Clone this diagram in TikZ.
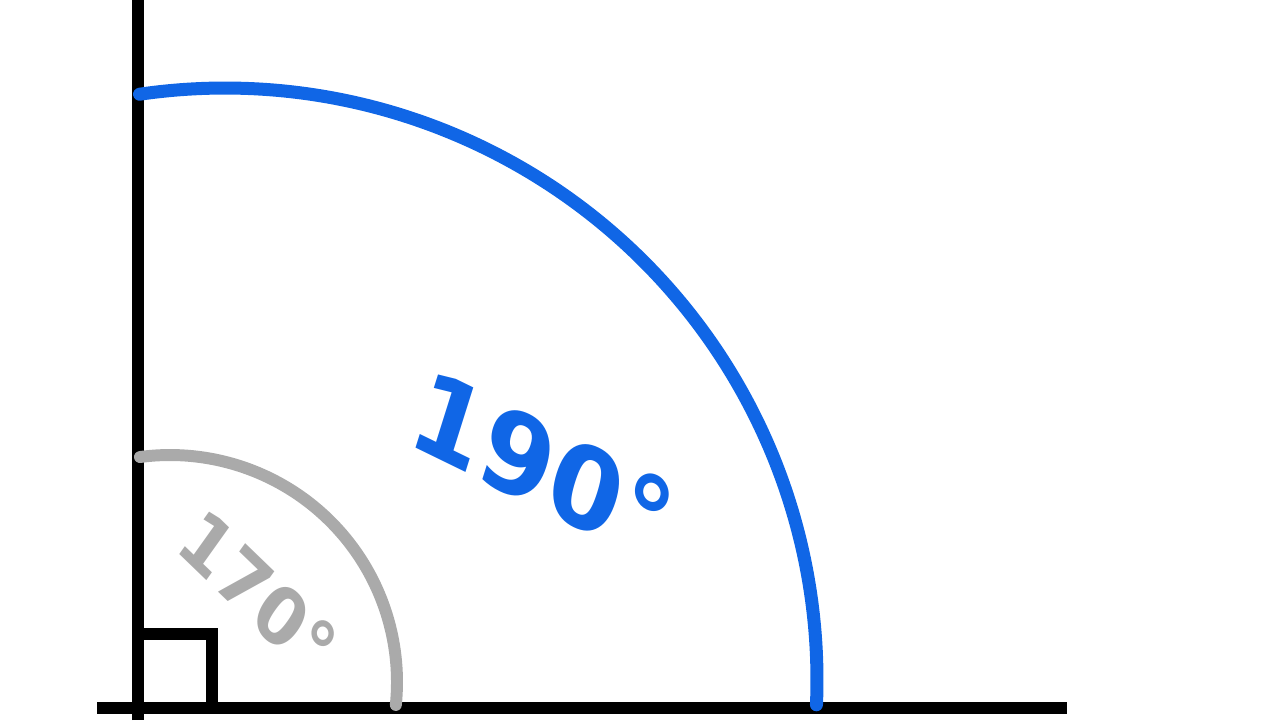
\documentclass[tikz,border=0pt]{standalone}
\usepackage{fontspec}
\setmainfont{DejaVu Sans}
\usepackage{xcolor}
\definecolor{arcblue}{RGB}{16,102,230}
\definecolor{arcgray}{RGB}{170,170,170}

\begin{document}
\begin{tikzpicture}[x=0.01cm,y=0.01cm,
    axis/.style={line width=3.6pt},
    bigarc/.style={arcblue,line width=3.7pt,line cap=round},
    smallarc/.style={arcgray,line width=3.4pt,line cap=round}]
    \useasboundingbox (0,0) rectangle (1280,720);

    \coordinate (O) at (138,12);
    \coordinate (top) at (138,720);
    \coordinate (bot) at (138,0);
    \coordinate (left) at (97,12);
    \coordinate (right) at (1067,12);
    \coordinate (bc) at (225,40);
    \coordinate (gc) at (170,38);

    \draw[axis] (bot) -- (top);
    \draw[axis] (left) -- (right);
    \draw[axis] (O |- 0,86) -- (212,86) -- (212,12);

    \draw[bigarc] (bc) ++(98.3:592) arc[start angle=98.3, end angle=-2.4, radius=592];
    \draw[smallarc] (gc) ++(97.6:227) arc[start angle=97.6, end angle=-5.8, radius=227];

    \node[arcblue, rotate=-26, xslant=-0.15, font=\fontsize{31}{36}\selectfont\bfseries] (big) at (543,254) {190°};
    \node[arcgray, rotate=-44, xslant=-0.15, font=\fontsize{21}{25}\selectfont\bfseries] (small) at (258,127) {170°};
\end{tikzpicture}
\end{document}
